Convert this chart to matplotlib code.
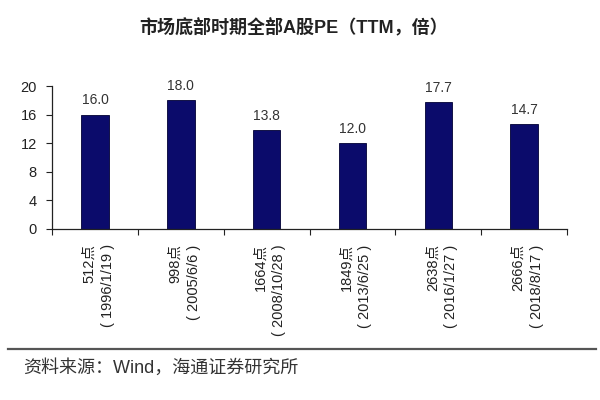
import matplotlib
matplotlib.use("Agg")
import matplotlib.pyplot as plt
from matplotlib.lines import Line2D
from matplotlib.transforms import ScaledTranslation

plt.rcParams['font.family'] = ['Liberation Sans', 'Noto Sans CJK SC', 'DejaVu Sans']

points = ["512点", "998点", "1664点", "1849点", "2638点", "2666点"]
dates = ["1996/1/19", "2005/6/6", "2008/10/28", "2013/6/25", "2016/1/27", "2018/8/17"]
pe = [16.0, 18.0, 13.8, 12.0, 17.7, 14.7]
yticks = [0, 4, 8, 12, 16, 20]
title = "市场底部时期全部A股PE（TTM，倍）"
source = "资料来源：Wind，海通证券研究所"

labels = [f"{p}\n( {d} )" for p, d in zip(points, dates)]

fig = plt.figure(figsize=(6, 4), dpi=100)
ax = fig.add_axes([0.087, 0.4275, 0.858, 0.3575])

x = list(range(len(pe)))
bar_color = "#0b0b6b"
ax.bar(x, pe, width=0.32, color=bar_color, edgecolor="#000033", linewidth=0.6)
for xi, v in zip(x, pe):
    ax.text(xi, v + 1.0, f"{v:.1f}", ha="center", va="bottom", fontsize=10, color="#333333")

ax.set_xlim(-0.5, len(pe) - 0.5)
ax.set_ylim(0, 20)
ax.set_yticks(yticks)
ax.tick_params(axis="y", direction="out", length=4, width=0.8, labelsize=10.5, colors="#222222", pad=7)

ax.set_xticks(x)
ax.set_xticklabels(labels, rotation=90, fontsize=10.5, color="#222222", linespacing=1.4,
                   multialignment="right", va="top", ha="center")
ax.tick_params(axis="x", which="major", length=0, pad=11)
shift = ScaledTranslation(2.5 / 72, 0, fig.dpi_scale_trans)
for lbl in ax.get_xticklabels():
    lbl.set_transform(lbl.get_transform() + shift)
ax.set_xticks([i - 0.5 for i in range(len(pe) + 1)], minor=True)
ax.tick_params(axis="x", which="minor", direction="out", length=4, width=0.8, color="#222222")

for s in ["top", "right"]:
    ax.spines[s].set_visible(False)
for s in ["left", "bottom"]:
    ax.spines[s].set_color("#222222")
    ax.spines[s].set_linewidth(0.9)

fig.text(0.49, 0.9325, title, ha="center", va="center", fontsize=13, fontweight="bold", color="#222222")
fig.add_artist(Line2D([0.013, 0.993], [0.1275, 0.1275], transform=fig.transFigure,
                      color="#555555", linewidth=1.6))
fig.text(0.038, 0.08, source, ha="left", va="center", fontsize=13, color="#333333")

fig.savefig("out.png", dpi=100, facecolor="white")
